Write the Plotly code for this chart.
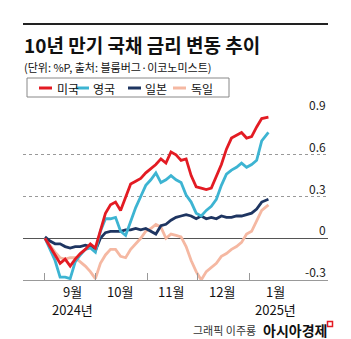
import plotly.graph_objects as go

dates = ["2024-09-01", "2024-09-04", "2024-09-07", "2024-09-10", "2024-09-13", "2024-09-16",
         "2024-09-19", "2024-09-22", "2024-09-25", "2024-09-28", "2024-10-01", "2024-10-04",
         "2024-10-07", "2024-10-10", "2024-10-13", "2024-10-16", "2024-10-19", "2024-10-22",
         "2024-10-25", "2024-10-28", "2024-10-31", "2024-11-03", "2024-11-06", "2024-11-09",
         "2024-11-12", "2024-11-15", "2024-11-18", "2024-11-21", "2024-11-24", "2024-11-27",
         "2024-11-30", "2024-12-03", "2024-12-06", "2024-12-09", "2024-12-12", "2024-12-15",
         "2024-12-18", "2024-12-21", "2024-12-24", "2024-12-27", "2024-12-30", "2025-01-02",
         "2025-01-05", "2025-01-08", "2025-01-12"]

us = [0.0, -0.06, -0.13, -0.18, -0.15, -0.20, -0.15, -0.11, -0.08, -0.04, -0.07, 0.05,
      0.18, 0.24, 0.26, 0.20, 0.29, 0.39, 0.41, 0.43, 0.47, 0.50, 0.53, 0.57, 0.54, 0.62,
      0.60, 0.56, 0.57, 0.45, 0.37, 0.36, 0.35, 0.36, 0.45, 0.53, 0.64, 0.72, 0.74, 0.76,
      0.72, 0.73, 0.80, 0.86, 0.87]
uk = [0.0, -0.08, -0.16, -0.28, -0.28, -0.29, -0.17, -0.12, -0.08, -0.07, -0.10, 0.05,
      0.14, 0.14, 0.15, 0.05, 0.02, 0.12, 0.22, 0.30, 0.38, 0.42, 0.47, 0.40, 0.42, 0.45,
      0.42, 0.40, 0.31, 0.26, 0.18, 0.16, 0.20, 0.23, 0.28, 0.38, 0.46, 0.49, 0.51, 0.54,
      0.51, 0.53, 0.56, 0.70, 0.76]
jp = [0.01, -0.02, -0.04, -0.04, -0.06, -0.07, -0.06, -0.06, -0.05, -0.06, -0.09, 0.0,
      0.04, 0.05, 0.05, 0.05, 0.06, 0.06, 0.07, 0.06, 0.07, 0.05, 0.03, 0.09, 0.10, 0.13,
      0.15, 0.16, 0.17, 0.16, 0.14, 0.16, 0.14, 0.15, 0.14, 0.16, 0.15, 0.15, 0.16, 0.16,
      0.17, 0.18, 0.21, 0.26, 0.28]
de = [0.0, -0.05, -0.10, -0.14, -0.15, -0.14, -0.14, -0.17, -0.20, -0.24, -0.29, -0.18,
      -0.12, -0.08, -0.08, -0.13, -0.14, -0.08, -0.04, 0.0, 0.05, 0.07, 0.10, 0.08, 0.0,
      0.03, 0.02, 0.01, -0.06, -0.16, -0.24, -0.30, -0.24, -0.21, -0.18, -0.13, -0.11,
      -0.08, -0.06, -0.03, 0.03, 0.05, 0.13, 0.20, 0.24]

names = ["미국", "영국", "일본", "독일"]
colors = ["#e31b23", "#3db4d2", "#1e3561", "#f5b8a2"]
series = [us, uk, jp, de]

month_ticks = ["2024-09-01", "2024-10-01", "2024-11-01", "2024-12-01", "2025-01-01"]
month_labels = ["9월", "10월", "11월", "12월", "1월"]
year_labels = ["2024년", "", "", "", "2025년"]
y_labels = [0.9, 0.6, 0.3, 0, -0.3]
y_label_text = ["0.9", "0.6", "0.3", "0", "-0.3"]

W, H = 351, 339
L, R, T, B = 23, 23, 113, 59
PW, PH = W - L - R, H - T - B
FONT = "Noto Sans CJK KR"


def px(x):
    return (x - L) / PW


def py(y):
    return (H - B - y) / PH


fig = go.Figure()
draw_order = [3, 2, 1, 0]
for i in draw_order:
    fig.add_trace(go.Scatter(x=dates, y=series[i], mode="lines", name=names[i],
                             line=dict(color=colors[i], width=2.8), showlegend=False))

shapes = []
annotations = []

# top rule
shapes.append(dict(type="line", xref="paper", yref="paper", x0=px(23), x1=px(328),
                   y0=py(24), y1=py(24), line=dict(color="#222", width=2)))

# title and subtitle
annotations.append(dict(text="<b>10년 만기 국채 금리 변동 추이</b>", xref="paper", yref="paper",
                        x=px(22), y=py(45), xanchor="left", yanchor="middle", showarrow=False,
                        font=dict(family=FONT, size=19, color="#111")))
annotations.append(dict(text="(단위: %P, 출처: 블룸버그·이코노미스트)", xref="paper", yref="paper",
                        x=px(22), y=py(67), xanchor="left", yanchor="middle", showarrow=False,
                        font=dict(family=FONT, size=11, color="#111")))

# legend box
shapes.append(dict(type="rect", xref="paper", yref="paper", x0=px(27), x1=px(229),
                   y0=py(78), y1=py(97), line=dict(color="#888", width=1), fillcolor="white"))
leg_line_x = [(39, 52), (76, 89), (128, 141), (173, 186)]
leg_text_x = [55, 91, 143, 189]
for i in range(4):
    shapes.append(dict(type="line", xref="paper", yref="paper", x0=px(leg_line_x[i][0]),
                       x1=px(leg_line_x[i][1]), y0=py(88), y1=py(88),
                       line=dict(color=colors[i], width=3)))
    annotations.append(dict(text=names[i], xref="paper", yref="paper", x=px(leg_text_x[i]),
                            y=py(88), xanchor="left", yanchor="middle", showarrow=False,
                            font=dict(family=FONT, size=12, color="#111")))

# y value labels
for v, t in zip(y_labels, y_label_text):
    annotations.append(dict(text=t, xref="paper", yref="y", x=px(327), y=v, xanchor="right",
                            yanchor="bottom", showarrow=False, borderpad=0, yshift=-1,
                            font=dict(family=FONT, size=12, color="#222")))

# month labels
month_center_px = [72, 120, 171, 222, 275]
for i in range(5):
    annotations.append(dict(text=month_labels[i], xref="paper", yref="paper",
                            x=px(month_center_px[i]), y=py(291), xanchor="center",
                            yanchor="middle", showarrow=False,
                            font=dict(family=FONT, size=13, color="#111")))
    if year_labels[i]:
        annotations.append(dict(text=year_labels[i], xref="paper", yref="paper",
                                x=px(month_center_px[i]), y=py(309), xanchor="center",
                                yanchor="middle", showarrow=False,
                                font=dict(family=FONT, size=13, color="#111")))

# credit
annotations.append(dict(text="그래픽 이주룡", xref="paper", yref="paper", x=px(258), y=py(330),
                        xanchor="right", yanchor="middle", showarrow=False,
                        font=dict(family=FONT, size=11, color="#333")))
annotations.append(dict(text="<b>아시아경제</b>", xref="paper", yref="paper", x=px(261), y=py(330),
                        xanchor="left", yanchor="middle", showarrow=False,
                        font=dict(family=FONT, size=14, color="#111")))
shapes.append(dict(type="rect", xref="paper", yref="paper", x0=px(327.5), x1=px(332.5),
                   y0=py(326.5), y1=py(321.5), line=dict(color="#e31b23", width=1.5)))

fig.update_layout(
    width=W, height=H,
    margin=dict(l=L, r=R, t=T, b=B, pad=0),
    paper_bgcolor="white", plot_bgcolor="white",
    showlegend=False,
    shapes=shapes,
    annotations=annotations,
    xaxis=dict(type="date", range=["2024-08-18 22:00", "2025-02-16 11:00"],
               tickvals=month_ticks, showticklabels=False, ticks="inside", ticklen=7,
               tickcolor="#999", tickwidth=1, showgrid=False, showline=True,
               linecolor="#999", linewidth=1.2, zeroline=False),
    yaxis=dict(range=[-0.3, 0.9], tickvals=[0.3, 0.6, 0.9], showticklabels=False,
               showgrid=True, gridcolor="#999", griddash="dot", gridwidth=1,
               zeroline=True, zerolinecolor="#555", zerolinewidth=1.2, showline=False),
)

fig.write_html("out.html")
